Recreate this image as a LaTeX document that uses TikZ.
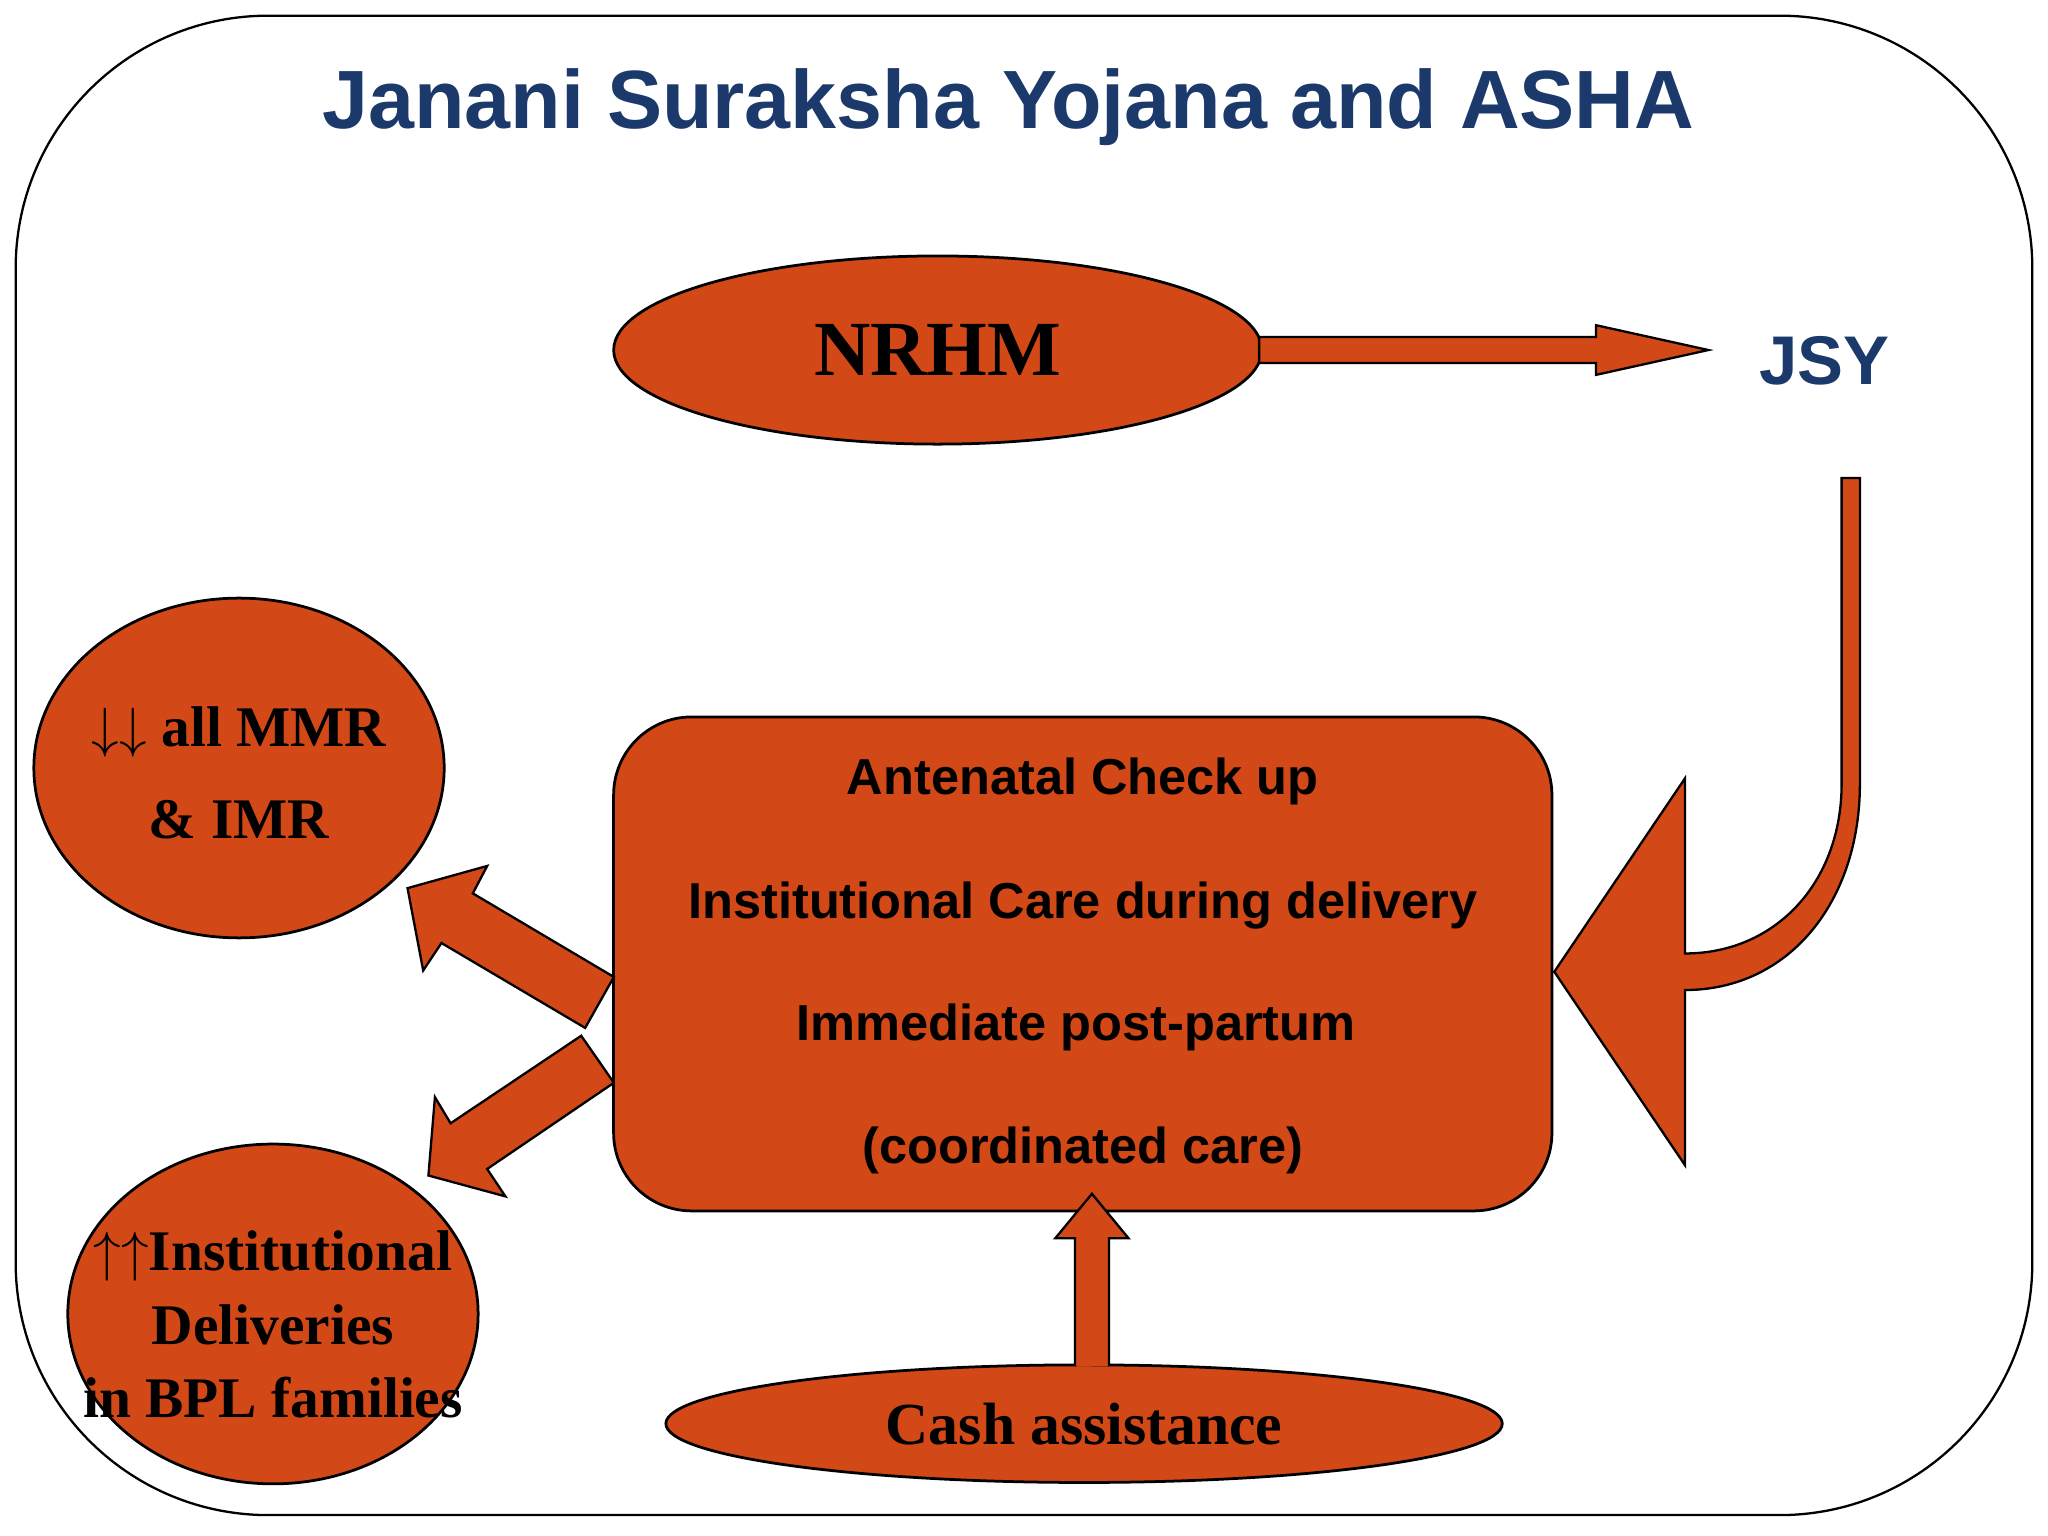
\documentclass[tikz,border=0pt]{standalone}
\usepackage{fontspec}
\setmainfont{Liberation Serif}
\setsansfont{Liberation Sans}
\usepackage{tikz}
\usepackage{xcolor}
\usetikzlibrary{shapes.geometric,positioning}
\definecolor{jsyred}{HTML}{D34817}
\definecolor{jsyblue}{HTML}{1B3A6B}

\begin{document}
\begin{tikzpicture}
[x=0.01cm,y=-0.01cm,
      blob/.style={ellipse,draw=black,fill=jsyred,line width=0.6pt,inner sep=0pt},
      fat/.style={draw=black,fill=jsyred,line width=0.5pt,line join=miter},
      care/.style={font=\sffamily\bfseries\fontsize{11}{13}\selectfont},
      res/.style={font=\bfseries\fontsize{12.5}{16}\selectfont,align=center}]
 \useasboundingbox (0,0) rectangle (1568,1176);
 \draw[rounded corners=55pt,line width=0.5pt,fill=white] (12,12) rectangle (1556,1160);
 \node[font=\sffamily\bfseries\fontsize{18}{20}\selectfont,text=jsyblue] (title) at (772,82)
  {Janani Suraksha Yojana and ASHA};
 % top row
 \node[blob,minimum width=4.96cm,minimum height=1.44cm] (nrhm) at (718,268)
  {\bfseries\fontsize{17}{20}\selectfont NRHM};
 \node[font=\sffamily\bfseries\fontsize{15}{18}\selectfont,text=jsyblue] (jsy) at (1397,276) {JSY};
 \draw[fat] (964,258) -- (1222,258) -- (1222,249) -- (1308,268)
  -- (1222,287) -- (1222,278) -- (964,278) -- cycle;
 % centre box
 \node[draw=black,fill=jsyred,rounded corners=17pt,line width=0.6pt,
   minimum width=7.18cm,minimum height=3.78cm] (box) at (829,738) {};
 \node[care] (anc) at (829,598) {Antenatal Check up};
 \node[care] (inst) at (829,693) {Institutional Care during delivery};
 \node[care] (post) at (824,787) {Immediate post-partum};
 \node[care] (coord) at (829,881) {(coordinated care)};
 % curved arrow from JSY
 \draw[fat] (1410,366) -- (1424,366) -- (1424,600)
  .. controls (1424,690) and (1370,758) .. (1290,758)
  -- (1290,892) -- (1190,744) -- (1290,596) -- (1290,730)
  .. controls (1360,730) and (1410,675) .. (1410,600) -- cycle;
 % results
 \node[blob,minimum width=3.14cm,minimum height=2.6cm] (mmr) at (183,588) {};
 \node[res] (mmrtext) at (183,592) {$\downarrow\downarrow$ all MMR\\[4pt]\& IMR};
 \node[blob,minimum width=3.14cm,minimum height=2.6cm] (deliv) at (209,1006) {};
 \node[res] (delivtext) at (209,1014) {$\uparrow\uparrow$Institutional\\Deliveries\\in BPL families};
 \draw[fat] (470,748) -- (448,787) -- (338,722) -- (324,743) -- (312,680)
  -- (373,663) -- (362,684) -- cycle;
 \draw[fat] (470,829) -- (445,793) -- (345,860) -- (333,840) -- (328,900)
  -- (387,916) -- (373,895) -- cycle;
 % cash
 \node[blob,minimum width=6.4cm,minimum height=0.9cm] (cash) at (830,1090)
  {\bfseries\fontsize{13}{15}\selectfont Cash assistance};
 \draw[fat] (823,1046) -- (823,948) -- (808,948) -- (836,914) -- (864,948)
  -- (849,948) -- (849,1046);
\end{tikzpicture}
\end{document}
